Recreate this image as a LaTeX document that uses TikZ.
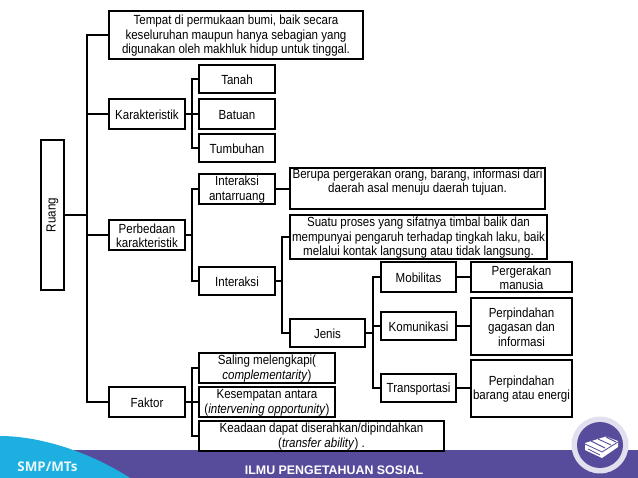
\documentclass[tikz,border=0pt]{standalone}
\usepackage{fontspec}
\setmainfont[FakeStretch=0.875]{Liberation Sans}
\newfontfamily\badgefont{Open Sans}
\newfontfamily\plainfont{Liberation Sans}
\definecolor{banner}{HTML}{574B9C}
\definecolor{sky}{HTML}{1CAFE0}
\definecolor{ring}{HTML}{E2E0EF}
\tikzset{
  box/.style={draw=black,line width=1.9pt,fill=white,inner sep=0pt,outer sep=0pt},
  link/.style={draw=black,line width=1.9pt},
  lbl/.style={font=\fontsize{13.2}{14.6}\selectfont}
}
% \bx{name}{x1}{y1}{x2}{y2}
\newcommand\bx[5]{%
  \pgfmathsetmacro\bw{#4-#2}\pgfmathsetmacro\bh{#5-#3}%
  \pgfmathsetmacro\bcx{(#2+#4)/2}\pgfmathsetmacro\bcy{(#3+#5)/2}%
  \node[box,minimum width=\bw pt,minimum height=\bh pt,anchor=center] (#1) at (\bcx,\bcy) {};
}
\newcommand\tx[3][-0.7]{%
  \node[lbl,inner sep=0pt,align=center,anchor=center,yshift=#1pt] (#2t) at (#2.center) {#3};
}
\begin{document}
\begin{tikzpicture}[x=1pt,y=-1pt]
\useasboundingbox (0,0) rectangle (638,478);
\fill[white] (0,0) rectangle (638,478);
% banner
\fill[banner] (0,450) rectangle (638,478);
\fill[sky] (0,436) .. controls (40,436) and (90,452) .. (130,478) -- (0,478) -- cycle;
\node[font=\badgefont\bfseries\fontsize{13.4}{15}\selectfont,text=white!90!sky,inner sep=0pt] (level) at (47.5,466.5) {SMP/MTs};
\node[font=\plainfont\bfseries\fontsize{12.4}{14}\selectfont,text=white,inner sep=0pt] (subject) at (334,470) {ILMU PENGETAHUAN SOSIAL};
\fill[ring] (600,445) circle (28.5);
\fill[banner] (600,445) circle (23);
% book icon
\fill[white] (585,443) -- (606,436.5) -- (618,441) -- (618,447) -- (602,458) -- (585,450) -- cycle;
\draw[banner,line width=0.8pt] (585,444) -- (602,452) -- (618,442);
\draw[banner,line width=0.9pt] (591,441) -- (605,448) (598,439) -- (611,445) (606,437) -- (616,442);
\draw[banner,line width=0.7pt] (588,449) -- (600,455);
% boxes
\node[box,minimum width=150pt,minimum height=23pt,rotate=90,anchor=center] (ruang) at (52.5,215) {};
\node[lbl,rotate=90,inner sep=0pt] (ruangt) at (ruang.center) {Ruang};
\bx{def}{109}{11}{363}{59}
\bx{kar}{109}{99}{185}{129}
\bx{tanah}{199}{65}{275}{93}
\bx{batuan}{199}{99}{275}{129}
\bx{tumb}{199}{134}{275}{162}
\bx{beda}{109}{220}{185}{250}
\bx{antar}{199}{174}{275}{204}
\bx{berupa}{290}{168}{545}{209}
\bx{suatu}{290}{215}{547}{259}
\bx{inter}{199}{267}{275}{295}
\bx{jenis}{290}{319}{365}{347}
\bx{mob}{381}{262}{456}{292}
\bx{gerak}{471}{262}{572}{292}
\bx{kom}{381}{312}{456}{340}
\bx{gagasan}{471}{298}{572}{355}
\bx{trans}{381}{374}{456}{402}
\bx{barang}{471}{360}{572}{417}
\bx{faktor}{109}{387}{185}{417}
\bx{saling}{199}{353}{335}{383}
\bx{sempat}{199}{387}{335}{417}
\bx{keadaan}{199}{421}{444}{451}
% junction points
\coordinate (j0) at (87,215);
\coordinate (j1) at (192,114);
\coordinate (j2) at (192,235);
\coordinate (j3) at (282,281);
\coordinate (j4) at (373,333);
\coordinate (j5) at (192,402);
% connectors
\draw[link] (ruang.south) -- (j0);
\draw[link] (def.west) -| (j0);
\draw[link] (faktor.west) -| (j0);
\draw[link] (kar.west) -- (kar.west -| j0);
\draw[link] (beda.west) -- (beda.west -| j0);
\draw[link] (kar.east) -- (batuan.west);
\draw[link] (tanah.west) -| (j1);
\draw[link] (tumb.west) -| (j1);
\draw[link] (beda.east) -- (j2);
\draw[link] (antar.west) -| (j2);
\draw[link] (inter.west) -| (j2);
\draw[link] (antar.east) -- (antar.east -| berupa.west);
\draw[link] (inter.east) -- (j3);
\draw[link] (suatu.west) -| (j3);
\draw[link] (jenis.west) -| (j3);
\draw[link] (jenis.east) -- (j4);
\draw[link] (mob.west) -| (j4);
\draw[link] (trans.west) -| (j4);
\draw[link] (kom.west) -- (kom.west -| j4);
\draw[link] (mob.east) -- (gerak.west);
\draw[link] (kom.east) -- (kom.east -| gagasan.west);
\draw[link] (trans.east) -- (trans.east -| barang.west);
\draw[link] (faktor.east) -- (j5);
\draw[link] (saling.west) -| (j5);
\draw[link] (keadaan.west) -| (j5);
\draw[link] (sempat.west) -- (sempat.west -| j5);
% texts
\tx{def}{Tempat di permukaan bumi, baik secara\\keseluruhan maupun hanya sebagian yang\\digunakan oleh makhluk hidup untuk tinggal.}
\tx{kar}{Karakteristik}
\tx{tanah}{Tanah}
\tx{batuan}{Batuan}
\tx{tumb}{Tumbuhan}
\tx{beda}{Perbedaan\\karakteristik}
\tx{antar}{Interaksi\\antarruang}
\tx[6.5]{berupa}{Berupa pergerakan orang, barang, informasi dari\\daerah asal menuju daerah tujuan.}
\tx{suatu}{Suatu proses yang sifatnya timbal balik dan\\mempunyai pengaruh terhadap tingkah laku, baik\\melalui kontak langsung atau tidak langsung.}
\tx{inter}{Interaksi}
\tx{jenis}{Jenis}
\tx{mob}{Mobilitas}
\tx{gerak}{Pergerakan\\manusia}
\tx{kom}{Komunikasi}
\tx{gagasan}{Perpindahan\\gagasan dan\\informasi}
\tx{trans}{Transportasi}
\tx{barang}{Perpindahan\\barang atau energi}
\tx{faktor}{Faktor}
\tx{saling}{Saling melengkapi(\\\textit{complementarity})}
\tx{sempat}{Kesempatan antara\\(\textit{intervening opportunity})}
\tx{keadaan}{Keadaan dapat diserahkan/dipindahkan\\(\textit{transfer ability}) .}
\end{tikzpicture}
\end{document}
